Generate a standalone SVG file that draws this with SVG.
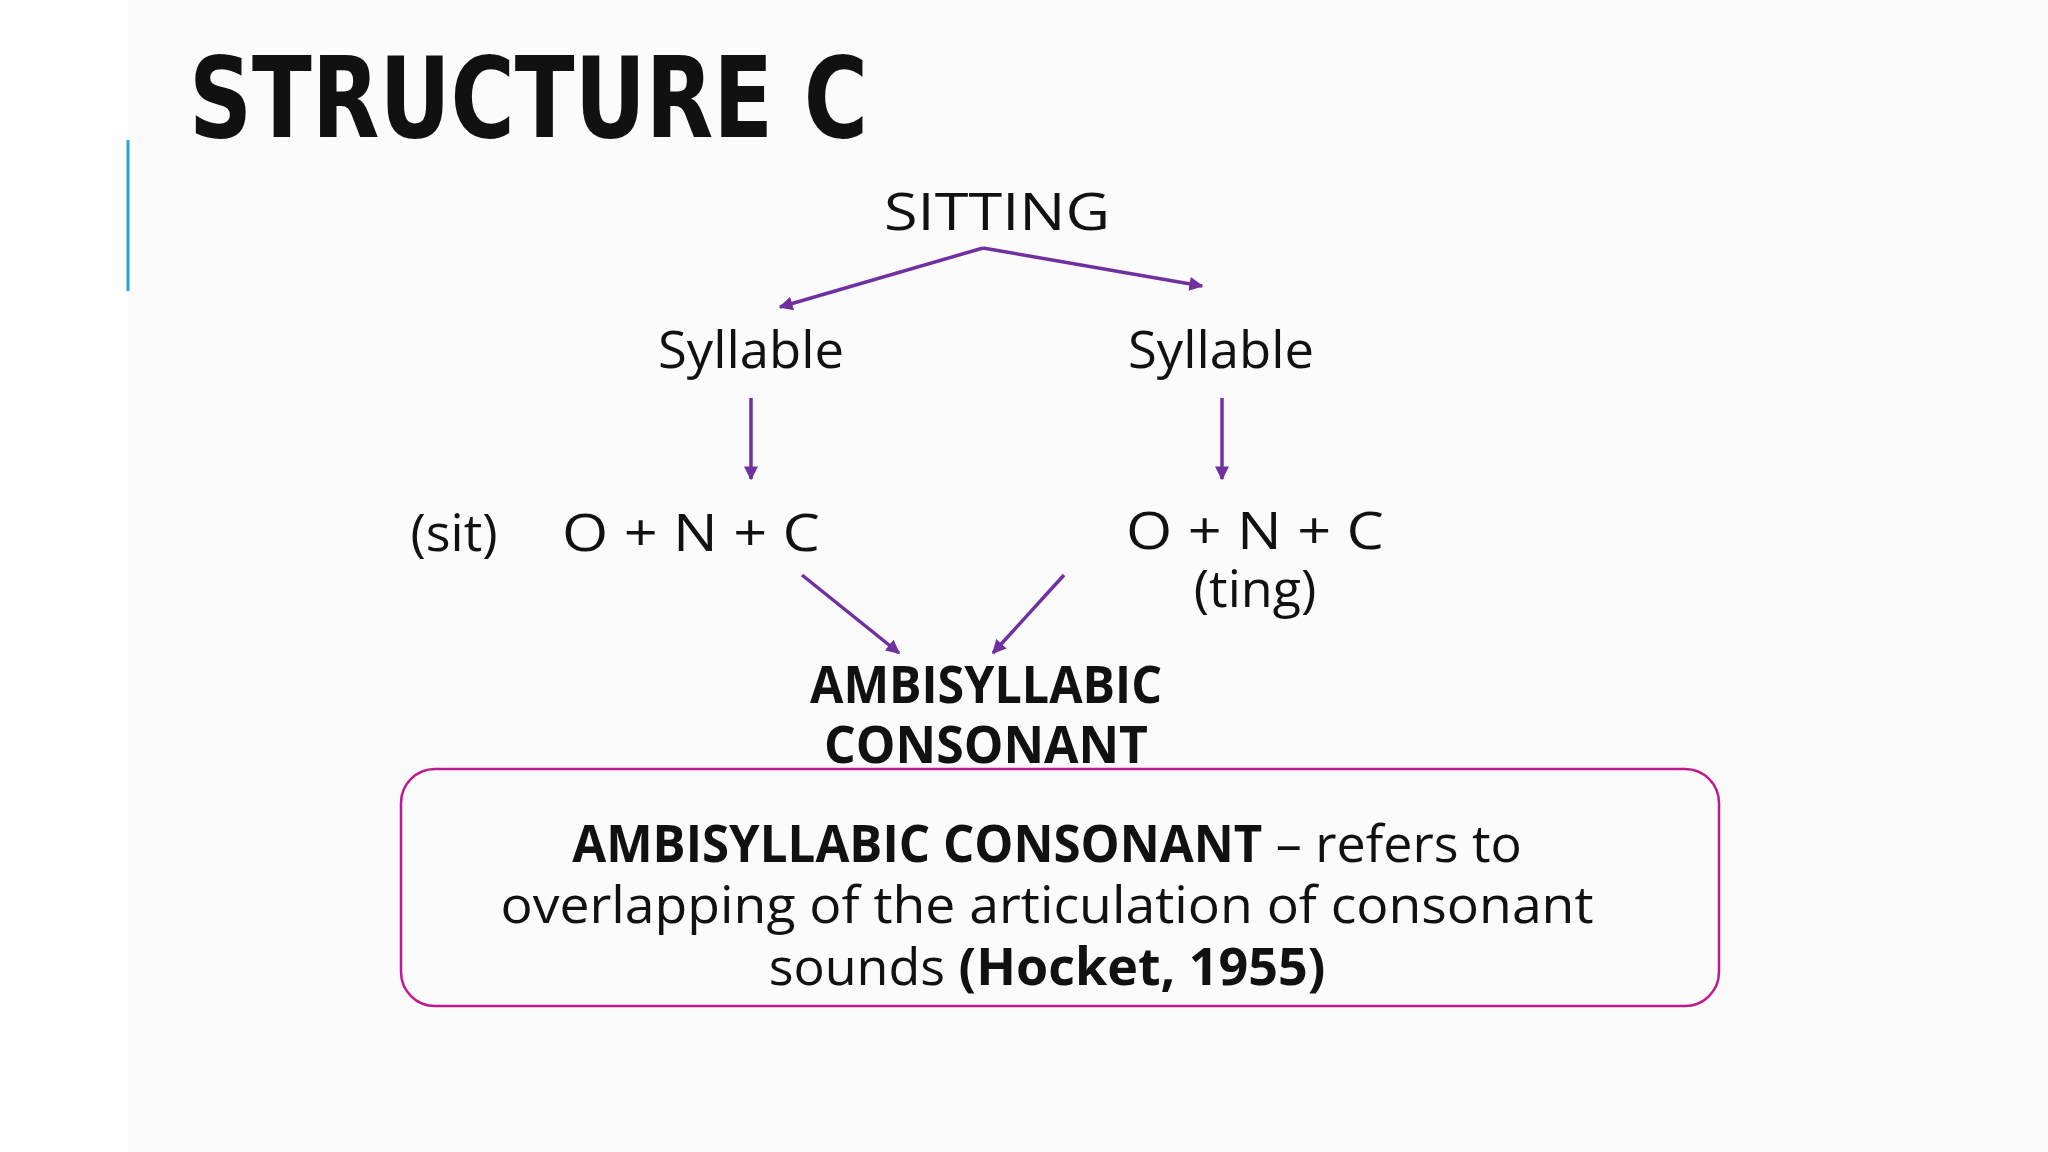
<svg xmlns="http://www.w3.org/2000/svg" width="2048" height="1152" viewBox="0 0 2048 1152">
<defs>
<style>
.t{font-family:"Open Sans","DejaVu Sans",sans-serif;fill:#111;font-size:52px;text-anchor:middle}
.b{font-weight:bold}
.c{stroke:#7030a0;stroke-width:3.5;fill:none;marker-end:url(#ah)}
</style>
<marker id="ah" viewBox="0 0 10 10" refX="9" refY="5" markerWidth="4" markerHeight="4" orient="auto"><path d="M0,0L10,5L0,10z" fill="#7030a0"/></marker>
</defs>
<rect width="2048" height="1152" fill="#ffffff"/>
<rect x="128" y="0" width="1920" height="1152" fill="#fbfbfb"/>
<line x1="128" y1="140" x2="128" y2="291" stroke="#29a3d6" stroke-width="3"/>
<g id="title"><text x="189" y="137" font-family="DejaVu Sans" font-weight="bold" font-size="112" fill="#111" textLength="679" lengthAdjust="spacingAndGlyphs">STRUCTURE C</text></g>
<g id="sitting"><text class="t" x="997" y="230" font-size="70" textLength="226" lengthAdjust="spacingAndGlyphs">SITTING</text></g>
<g id="syl1"><text class="t" x="751" y="368" textLength="186" lengthAdjust="spacingAndGlyphs">Syllable</text></g>
<g id="syl2"><text class="t" x="1221" y="368" textLength="186" lengthAdjust="spacingAndGlyphs">Syllable</text></g>
<g id="sit"><text class="t" x="454" y="551">(sit)</text></g>
<g id="onc1"><text class="t" x="691" y="551" textLength="258" lengthAdjust="spacingAndGlyphs">O + N + C</text></g>
<g id="onc2"><text class="t" x="1255" y="549" textLength="258" lengthAdjust="spacingAndGlyphs">O + N + C</text><text class="t" x="1255" y="607">(ting)</text></g>
<g id="amb"><text class="t b" x="986" y="703" textLength="352" lengthAdjust="spacingAndGlyphs">AMBISYLLABIC</text><text class="t b" x="986" y="763" textLength="324" lengthAdjust="spacingAndGlyphs">CONSONANT</text></g>
<g id="def">
<rect x="401" y="769" width="1318" height="237" rx="34" fill="none" stroke="#c0188f" stroke-width="2.5"/>
<text class="t" x="1047" y="862"><tspan class="b" textLength="690" lengthAdjust="spacingAndGlyphs">AMBISYLLABIC CONSONANT</tspan> – refers to</text>
<text class="t" x="1047" y="923" textLength="1093" lengthAdjust="spacingAndGlyphs">overlapping of the articulation of consonant</text>
<text class="t" x="1047" y="985">sounds <tspan class="b">(Hocket, 1955)</tspan></text>
</g>
<g id="connectors">
<polyline class="c" points="983,248 780,307"/>
<polyline class="c" points="983,248 1202,286"/>
<line class="c" x1="751" y1="398" x2="751" y2="479"/>
<line class="c" x1="1222" y1="398" x2="1222" y2="479"/>
<line class="c" x1="802" y1="575" x2="899" y2="653"/>
<line class="c" x1="1064" y1="575" x2="993" y2="653"/>
</g>
</svg>
